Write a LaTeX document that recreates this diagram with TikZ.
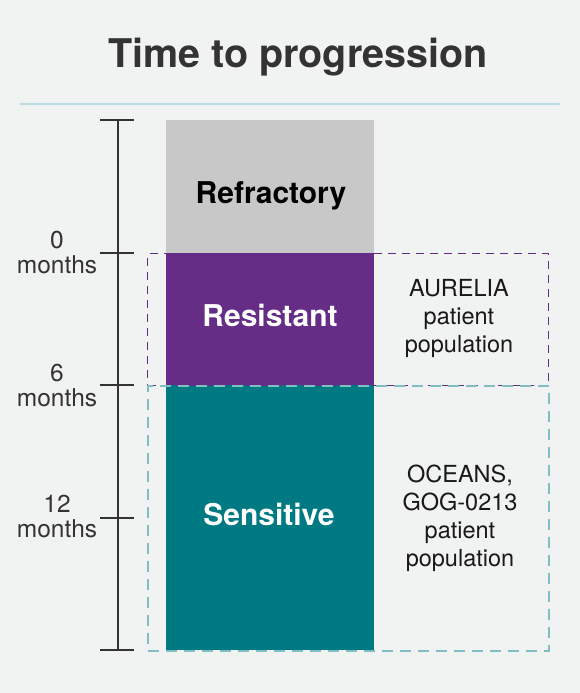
\documentclass[tikz,border=0pt]{standalone}
\usepackage{fontspec}
\setmainfont{TeX Gyre Heros}
\definecolor{bgc}{HTML}{F1F2F2}
\definecolor{titlec}{HTML}{333333}
\definecolor{rulec}{HTML}{B9DCDF}
\definecolor{greyc}{HTML}{C8C8C8}
\definecolor{purplec}{HTML}{652D86}
\definecolor{tealc}{HTML}{007A82}
\definecolor{tealdash}{HTML}{7FBFC4}
\definecolor{axisc}{HTML}{333333}
\tikzset{
  bar/.style={draw=none, minimum width=208pt, inner sep=0pt, anchor=north west},
  barlabel/.style={font=\fontsize{30}{36}\selectfont\bfseries, anchor=base, inner sep=0pt},
  monthlabel/.style={font=\fontsize{24.5}{25}\selectfont, align=center, anchor=north, inner sep=0pt, text=titlec},
  poplabel/.style={font=\fontsize{23.5}{28}\selectfont, align=center, anchor=north, inner sep=0pt, text=black!90},
  tick/.style={line width=2pt, draw=axisc},
  popbox/.style={dashed, line width=1.4pt},
}
\begin{document}
\begin{tikzpicture}[x=1pt, y=-1pt]
\fill[bgc] (0,0) rectangle (580,693);
\useasboundingbox (0,0) rectangle (580,693);
% title
\node[font=\fontsize{39.5}{44}\selectfont\bfseries, text=titlec, anchor=base, inner sep=0pt] (title) at (298,67) {Time to progression};
\draw[rulec, line width=2pt] (20,104) coordinate (r1) -- (560,104) coordinate (r2);
% bars
\node[bar, fill=greyc, minimum height=133pt] (refr) at (166,120) {};
\node[bar, fill=purplec, minimum height=132pt] (resi) at (166,253) {};
\node[bar, fill=tealc, minimum height=265pt] (sens) at (166,385) {};
\node[barlabel, text=black] (refrl) at (271,203) {Refractory};
\node[barlabel, text=white] (resil) at (270,326) {Resistant};
\node[barlabel, text=white] (sensl) at (269,525) {Sensitive};
% dashed population boxes
\node[popbox, draw=purplec, dash pattern=on 8pt off 6pt, minimum width=401pt, minimum height=132pt, anchor=north west, inner sep=0pt] (aur) at (147,253) {};
\node[popbox, draw=tealdash, dash pattern=on 11pt off 7pt, line width=2pt, minimum width=401pt, minimum height=265pt, anchor=north west, inner sep=0pt] (oce) at (147,385) {};
\node[poplabel] (aurl) at (459,279) {AURELIA\\patient\\population};
\node[poplabel] (ocel) at (460,465) {OCEANS,\\GOG-0213\\patient\\population};
% axis
\coordinate (a0) at (118,120);
\coordinate (a1) at (118,253);
\coordinate (a2) at (118,385);
\coordinate (a3) at (118,518);
\coordinate (a4) at (118,650);
\draw[tick] (a0) -- (a4);
\foreach \c in {a0,a1,a2,a3,a4}{
  \draw[tick] ([xshift=-18pt]\c) -- ([xshift=16pt]\c);
}
\node[monthlabel] (m0) at (57,231) {0\\months};
\node[monthlabel] (m6) at (57,364) {6\\months};
\node[monthlabel] (m12) at (57,495) {12\\months};
\end{tikzpicture}
\end{document}
